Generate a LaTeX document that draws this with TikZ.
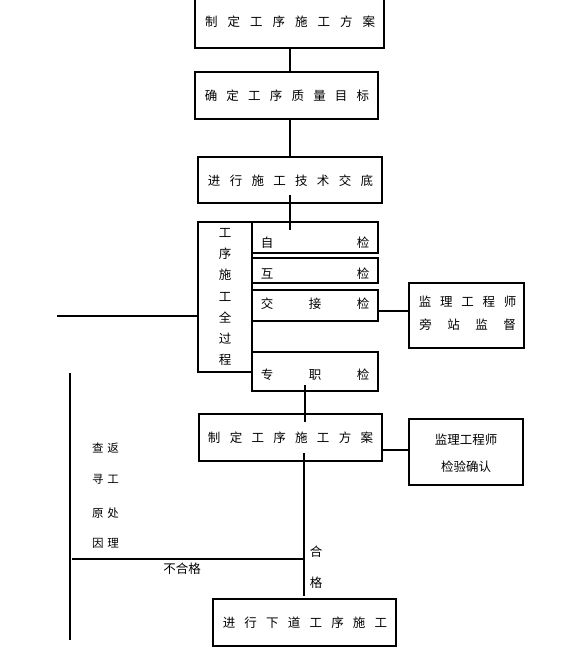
\documentclass[tikz,border=0pt]{standalone}
\usepackage{fontspec}
\newfontfamily\cjk{Noto Sans CJK SC}
\tikzset{
  box/.style={draw, line width=2pt, inner sep=0pt, outer sep=0pt},
  ln/.style={line width=2pt},
  txt/.style={inner sep=0pt, font={\cjk\fontsize{12.5}{15}\selectfont}},
  stxt/.style={inner sep=0pt, font={\cjk\fontsize{11.5}{14}\selectfont}},
}
\newcommand\gp[1]{\hspace{#1pt}}
\begin{document}
\begin{tikzpicture}[x=1pt,y=-1pt]
\useasboundingbox (0,0) rectangle (586,666);
\fill[white] (0,0) rectangle (586,666);
\clip (0,0) rectangle (586,666);
% main boxes
\node[box, minimum width=189pt, minimum height=52pt] (b1) at (289.5,22) {};
\node[box, minimum width=183pt, minimum height=47pt] (b2) at (286.5,95.5) {};
\node[box, minimum width=184pt, minimum height=46pt] (b3) at (290,180) {};
\node[box, minimum width=54pt, minimum height=150pt] (tall) at (225,297) {};
\node[box, minimum width=126pt, minimum height=31pt] (zj) at (315,237.5) {};
\node[box, minimum width=126pt, minimum height=25pt] (hj) at (315,270.5) {};
\node[box, minimum width=126pt, minimum height=31pt] (jj) at (315,305.5) {};
\node[box, minimum width=126pt, minimum height=39pt] (zz) at (315,371.5) {};
\node[box, minimum width=115pt, minimum height=65pt] (s1) at (466.5,315.5) {};
\node[box, minimum width=183pt, minimum height=47pt] (b5) at (290.5,437.5) {};
\node[box, minimum width=114pt, minimum height=66pt] (s2) at (466,452) {};
\node[box, minimum width=183pt, minimum height=47pt] (b6) at (304.5,622.5) {};
% texts
\node[txt] (t1) at (290,22) {制\gp{10}定\gp{10}工\gp{10}序\gp{10}施\gp{10}工\gp{10}方\gp{10}案};
\node[txt] (t2) at (287,96) {确\gp{9.2}定\gp{9.2}工\gp{9.2}序\gp{9.2}质\gp{9.2}量\gp{9.2}目\gp{9.2}标};
\node[txt] (t3) at (290.5,181) {进\gp{9.3}行\gp{9.3}施\gp{9.3}工\gp{9.3}技\gp{9.3}术\gp{9.3}交\gp{9.3}底};
\node[txt, align=center, font={\cjk\fontsize{12.5}{21.2}\selectfont}] (tt) at (225,297) {工\\序\\施\\工\\全\\过\\程};
\node[txt] (tz) at (315,243) {自\gp{83.5}检};
\node[txt] (th) at (315,274) {互\gp{83.5}检};
\node[txt] (tj) at (315,304) {交\gp{35.5}接\gp{35.5}检};
\node[txt] (tzz) at (315,375) {专\gp{35.5}职\gp{35.5}检};
\node[txt] (ts1a) at (467.5,302) {监\gp{8.75}理\gp{8.75}工\gp{8.75}程\gp{8.75}师};
\node[txt] (ts1b) at (467.5,325) {旁\gp{15.5}站\gp{15.5}监\gp{15.5}督};
\node[txt] (t5) at (290.5,438) {制\gp{9.3}定\gp{9.3}工\gp{9.3}序\gp{9.3}施\gp{9.3}工\gp{9.3}方\gp{9.3}案};
\node[txt] (ts2a) at (466,440) {监理工程师};
\node[txt] (ts2b) at (466,467) {检验确认};
\node[txt] (t6) at (305,623) {进\gp{9.2}行\gp{9.2}下\gp{9.2}道\gp{9.2}工\gp{9.2}序\gp{9.2}施\gp{9.2}工};
\node[stxt] (l1) at (105.5,448) {查\gp{4}返};
\node[stxt] (l2) at (105.5,479) {寻\gp{4}工};
\node[stxt] (l3) at (105.5,513) {原\gp{4}处};
\node[stxt] (l4) at (105.5,543) {因\gp{4}理};
\node[txt] (bh) at (182,569) {不合格};
\node[txt] (h1) at (316,552) {合};
\node[txt] (h2) at (316,583) {格};
% connector points
\coordinate (c3a) at (290,195);
\coordinate (c3b) at (290,230);
\coordinate (cl) at (57,316);
\coordinate (cza) at (305,385);
\coordinate (czb) at (305,422);
\coordinate (c5a) at (304,453);
\coordinate (c5b) at (304,596);
\coordinate (cf) at (304,559);
\coordinate (cfl) at (72,559);
\coordinate (cva) at (70,373);
\coordinate (cvb) at (70,640);
% connectors
\draw[ln] (b1.south -| b3.north) -- (b3.north |- b2.north);
\draw[ln] (b3.north |- b2.south) -- (b3.north);
\draw[ln] (c3a) -- (c3b);
\draw[ln] (jj.east |- 0,311) -- (s1.west |- 0,311);
\draw[ln] (cl) -- (tall.west |- cl);
\draw[ln] (cza) -- (czb);
\draw[ln] (b5.east |- 0,450) -- (s2.west |- 0,450);
\draw[ln] (c5a) -- (c5b);
\draw[ln] (cf) -- (cfl);
\draw[ln] (cva) -- (cvb);
\end{tikzpicture}
\end{document}
